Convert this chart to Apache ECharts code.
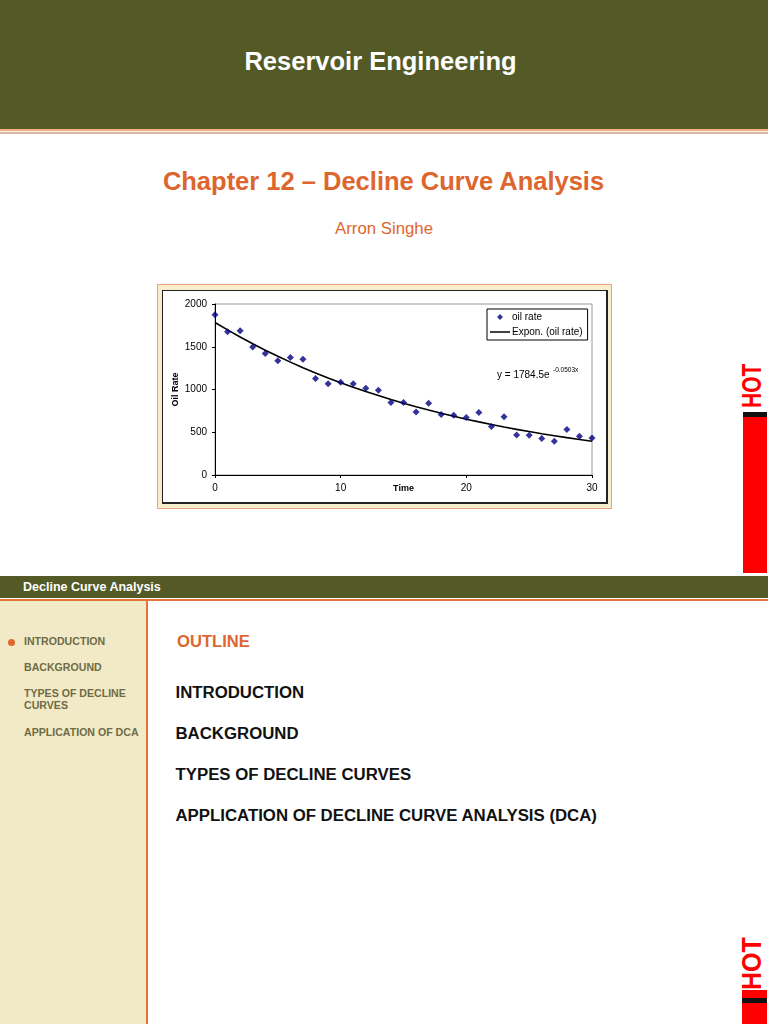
<!DOCTYPE html>
<html>
<head>
<meta charset="utf-8">
<script src="https://cdn.jsdelivr.net/npm/echarts@6/dist/echarts.min.js"></script>
<style>
  html, body { margin:0; padding:0; }
  body { width:768px; height:1024px; position:relative; overflow:hidden; background:#fff;
         font-family:"Liberation Sans", Arial, Helvetica, sans-serif; }
  .abs { position:absolute; }
  .t { position:absolute; white-space:nowrap; }
  .hot { position:absolute; writing-mode:vertical-rl; white-space:nowrap; font-weight:bold; color:#ff0000; transform-origin:50% 50%; }
</style>
</head>
<body>
<!-- header -->
<div class="abs" style="left:0;top:0;width:768px;height:129px;background:#545a26;"></div>
<div class="abs" style="left:0;top:129px;width:768px;height:2px;background:#efb184;"></div>
<div class="abs" style="left:0;top:131px;width:768px;height:1px;background:#fbeee4;"></div>
<div class="abs" style="left:0;top:132px;width:768px;height:2px;background:#dcb6a6;"></div>
<div class="t" style="left:0;width:761px;text-align:center;top:46px;line-height:30px;font-size:25.5px;font-weight:bold;color:#fff;">Reservoir Engineering</div>

<div class="t" style="left:0;width:767px;text-align:center;top:166px;line-height:30px;font-size:25.5px;font-weight:bold;color:#dd662e;">Chapter 12 – Decline Curve Analysis</div>
<div class="t" style="left:0;width:768px;text-align:center;top:219px;line-height:20px;font-size:16.8px;color:#dd662e;">Arron Singhe</div>

<!-- chart frame -->
<div class="abs" style="left:157px;top:284px;width:453px;height:223px;background:#f7edcc;border:1px solid #e9a67c;"></div>
<div class="abs" id="panel" style="left:162px;top:290px;width:443px;height:211px;background:#fff;border:1px solid #222;border-right-width:2px;border-bottom-width:2px;">
  <div id="chart" style="position:absolute;left:0;top:0;width:443px;height:211px;"></div>
</div>

<!-- HOT logos -->
<div class="abs" style="left:743px;top:417px;width:24px;height:156px;background:#ff0000;"></div>
<div class="abs" style="left:743px;top:412px;width:24px;height:5px;background:#111;"></div>
<div class="hot" style="left:740.3px;top:363px;width:23.5px;height:45px;font-size:21px;line-height:23.5px;transform:rotate(180deg) scaleX(1.33);">HOT</div>

<div class="abs" style="left:742px;top:1003px;width:25px;height:21px;background:#ff0000;"></div>
<div class="abs" style="left:742px;top:998px;width:25px;height:5px;background:#111;"></div>
<div class="abs" style="left:742px;top:990px;width:25px;height:8px;background:#ff0000;"></div>
<div class="hot" style="left:738.1px;top:936.6px;width:27.9px;height:53px;font-size:25px;line-height:27.9px;transform:rotate(180deg) scaleX(1.117);">HOT</div>

<!-- bottom section -->
<div class="abs" style="left:0;top:576px;width:768px;height:22px;background:#545a26;"></div>
<div class="abs" style="left:0;top:599px;width:768px;height:2px;background:#e2753f;"></div>
<div class="t" style="left:23px;top:579px;line-height:16px;font-size:12.5px;font-weight:bold;color:#fff;">Decline Curve Analysis</div>
<div class="abs" style="left:0;top:601px;width:146px;height:423px;background:#f2eac7;"></div>
<div class="abs" style="left:146px;top:601px;width:2px;height:423px;background:#e2753f;"></div>

<div class="abs" style="left:8px;top:638.5px;width:7px;height:7px;border-radius:50%;background:#e0662c;"></div>
<div class="t" style="left:24px;top:635px;line-height:13px;font-size:10.6px;font-weight:bold;color:#6f6b46;">INTRODUCTION</div>
<div class="t" style="left:24px;top:661px;line-height:13px;font-size:10.6px;font-weight:bold;color:#6f6b46;">BACKGROUND</div>
<div class="t" style="left:24px;top:687px;line-height:12.4px;font-size:10.6px;font-weight:bold;color:#6f6b46;">TYPES OF DECLINE<br>CURVES</div>
<div class="t" style="left:24px;top:726px;line-height:13px;font-size:10.6px;font-weight:bold;color:#6f6b46;">APPLICATION OF DCA</div>

<div class="t" style="left:177px;top:632px;line-height:20px;font-size:16.6px;font-weight:bold;color:#dd662e;">OUTLINE</div>
<div class="t" style="left:175.5px;top:683px;line-height:20px;font-size:16.8px;font-weight:bold;color:#111;">INTRODUCTION</div>
<div class="t" style="left:175.5px;top:724px;line-height:20px;font-size:16.8px;font-weight:bold;color:#111;">BACKGROUND</div>
<div class="t" style="left:175.5px;top:765px;line-height:20px;font-size:16.8px;font-weight:bold;color:#111;">TYPES OF DECLINE CURVES</div>
<div class="t" style="left:175.5px;top:806px;line-height:20px;font-size:16.8px;font-weight:bold;color:#111;">APPLICATION OF DECLINE CURVE ANALYSIS (DCA)</div>

<script>
// ---- data ----
var timeValues = [0,1,2,3,4,5,6,7,8,9,10,11,12,13,14,15,16,17,18,19,20,21,22,23,24,25,26,27,28,29,30];
var oilRate    = [1875,1676,1688,1496,1422,1336,1375,1355,1129,1067,1085,1067,1015,992,847,847,738,839,707,699,672,730,566,680,469,465,426,394,531,453,434];
var trendRate  = [1784,1697,1614,1535,1460,1388,1320,1255,1194,1135,1080,1027,976,929,883,840,799,760,722,687,653,621,591,562,534,508,483,460,437,416,395];
var xTicks = [0,10,20,30];
var yTicks = [0,500,1000,1500,2000];
var seriesNames = ['oil rate','Expon. (oil rate)'];
var equationMain = 'y = 1784.5e';
var equationSup = '-0.0503x';

var font = '"Liberation Sans", Arial, sans-serif';
var chart = echarts.init(document.getElementById('chart'), null, {renderer:'canvas'});

function pairs(xs, ys){ return xs.map(function(x,i){ return [x, ys[i]]; }); }
function plain(v){ return String(v); }

chart.setOption({
  animation:false,
  textStyle:{fontFamily:font},
  grid:{left:52, top:13, width:377, height:171, show:true, borderColor:'#9a9a9a', borderWidth:1,
        backgroundColor:'#fff', containLabel:false, outerBoundsMode:'none'},
  xAxis:{
    type:'value', min:xTicks[0], max:xTicks[xTicks.length-1], interval:xTicks[1]-xTicks[0],
    name:'Time', nameLocation:'middle', nameGap:9, nameMoveOverlap:false,
    nameTextStyle:{fontSize:9, fontWeight:'bold', color:'#000', fontFamily:font},
    axisLine:{lineStyle:{color:'#000', width:1}},
    axisTick:{show:true, inside:false, length:3, lineStyle:{color:'#000'}},
    axisLabel:{fontSize:10, color:'#000', margin:8, fontFamily:font, formatter:plain},
    splitLine:{show:false}
  },
  yAxis:{
    type:'value', min:yTicks[0], max:yTicks[yTicks.length-1], interval:yTicks[1]-yTicks[0],
    name:'Oil Rate', nameLocation:'middle', nameGap:35, nameMoveOverlap:false,
    nameTextStyle:{fontSize:9, fontWeight:'bold', color:'#000', fontFamily:font},
    axisLine:{show:true, lineStyle:{color:'#000', width:1}},
    axisTick:{show:true, inside:false, length:3, lineStyle:{color:'#000'}},
    axisLabel:{fontSize:10, color:'#000', margin:8, fontFamily:font, formatter:plain},
    splitLine:{show:false}
  },
  legend:{
    left:324, top:18, orient:'vertical',
    backgroundColor:'#fff', borderColor:'#000', borderWidth:1, borderRadius:0,
    padding:[3,5,3,3], itemGap:5, itemWidth:20, itemHeight:6,
    textStyle:{fontSize:10, color:'#000', fontFamily:font, padding:[0,0,0,-3]},
    data:[{name:seriesNames[0], icon:'path://M4,0 L8,4 L4,8 L0,4 Z', itemStyle:{color:'#000080'}},
          {name:seriesNames[1], icon:'path://M0,0 L40,0 L40,3 L0,3 Z', itemStyle:{color:'#000'}}]
  },
  series:[
    {name:seriesNames[1], type:'line', data:pairs(timeValues, trendRate), symbol:'none', showSymbol:false,
     smooth:false, lineStyle:{color:'#000', width:1.6}, itemStyle:{color:'#000'}, z:2},
    {name:seriesNames[0], type:'scatter', data:pairs(timeValues, oilRate), symbol:'diamond', symbolSize:7,
     itemStyle:{color:'#000080'}, z:3}
  ],
  graphic:[
    {type:'text', left:334, top:79, style:{text:equationMain, fontSize:10, fill:'#000', fontFamily:font}},
    {type:'text', left:390, top:76, style:{text:equationSup, fontSize:6.5, fill:'#000', fontFamily:font}}
  ]
});
</script>
</body>
</html>
